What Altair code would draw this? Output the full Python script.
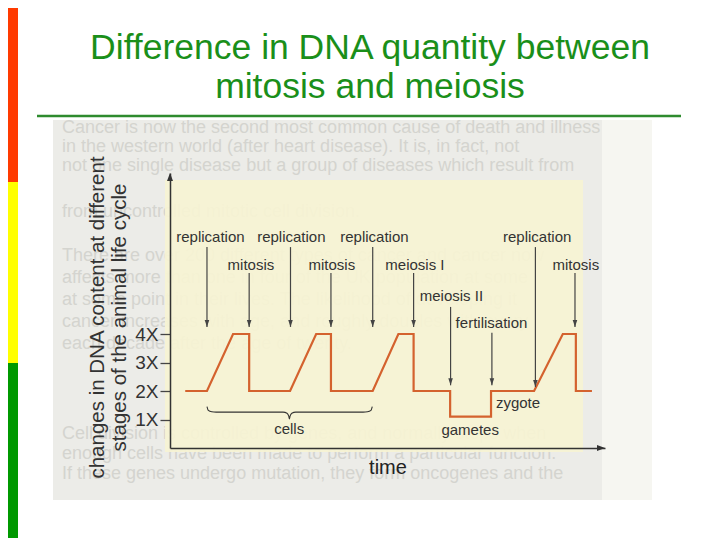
import altair as alt
import pandas as pd

# ---------------- data ----------------
# DNA content trace (time in arbitrary units 0-100, DNA content in multiples of X)
line_t = [3.5, 8.5, 14.5, 18.2, 18.2, 27.6, 33.6, 37.0, 37.0, 46.6, 52.5, 56.0, 56.0,
          64.4, 64.4, 73.8, 73.8, 83.7, 90.3, 93.3, 93.3, 97.0]
line_v = [2, 2, 4, 4, 2, 2, 4, 4, 2, 2, 4, 4, 2,
          2, 1.1, 1.1, 2, 2, 4, 4, 2, 2]

# events (arrows)
events = ["replication", "mitosis", "replication", "mitosis", "replication",
          "meiosis I", "meiosis II", "fertilisation", "replication", "mitosis"]
arrow_t = [8.5, 18.2, 27.7, 37.0, 46.6, 56.0, 64.5, 74.0, 84.0, 93.1]
arrow_top = [7.05, 6.14, 7.05, 6.14, 7.05, 6.14, 4.95, 4.04, 7.05, 6.14]
arrow_tip = [4.25, 4.25, 4.25, 4.25, 4.25, 4.25, 2.2, 2.2, 2.14, 4.25]
label_t = [9.3, 18.6, 27.9, 37.2, 47.0, 56.3, 64.7, 73.9, 84.4, 93.3]
label_v = [7.40, 6.42, 7.40, 6.42, 7.40, 6.42, 5.33, 4.39, 7.40, 6.42]

# stage notes
notes = ["cells", "gametes", "zygote"]
note_t = [27.4, 69.0, 80.0]
note_v = [0.67, 0.63, 1.58]

# brace under the mitotic cycles
brace_t = [8.5, 8.8, 9.6, 10.6, 26.0, 26.9, 27.3, 27.45, 27.6, 28.0, 28.9, 44.4, 45.4, 46.2, 46.5]
brace_v = [1.45, 1.32, 1.27, 1.26, 1.26, 1.22, 1.12, 1.02, 1.12, 1.22, 1.26, 1.26, 1.27, 1.32, 1.45]

y_ticks = [1, 2, 3, 4]
y_title = ["changes in DNA content at different", "stages of the animal life cycle"]
x_title = "time"
title_lines = ["Difference in DNA quantity between", "mitosis and meiosis"]

# faint text of the scanned book page behind the figure
page_block_a = ["Cancer is now the second most common cause of death and illness",
                "in the western world (after heart disease). It is, in fact, not",
                "not one single disease but a group of diseases which result from"]
page_block_b = ["from uncontrolled mitotic cell division."]
page_block_c = ["There are over 200 different types of cancer and cancer now",
                "affects more than one in four of the UK population at some",
                "at some point in their lives. The likelihood of developing it",
                "cancer increases with age, and roughly doubles with every",
                "each decade after the age of twenty."]
page_block_d = ["Cell division is controlled by genes, and normally stops when",
                "enough cells have been made to perform a particular function.",
                "If these genes undergo mutation, they form oncogenes and the"]

# ---------------- layout helpers ----------------
W, H = 435, 275
OX, OY = 170, 173          # screen position of plot origin (8px page margin + padding)


def px(sx):
    return sx - OX


def py(sy):
    return sy - OY


FONT = "Liberation Sans, Arial, sans-serif"
INK = "#333333"
one = pd.DataFrame({"k": [0]})

xs = alt.Scale(domain=[0, 100], nice=False, zero=False)
ys = alt.Scale(domain=[0, 9.65], nice=False, zero=False)

xaxis = alt.Axis(title=x_title, ticks=False, labels=False, grid=False, zindex=1,
                 domainColor=INK, domainWidth=1.5, titleFont=FONT, titleFontSize=20,
                 titleFontWeight="normal", titleColor="#222222", titlePadding=9)
yaxis = alt.Axis(title=y_title, values=y_ticks, labelExpr="datum.value + 'X'", zindex=1,
                 tickSize=10, tickColor="#444444", tickWidth=1.3, domainColor=INK,
                 domainWidth=1.5, labelFont=FONT, labelFontSize=19, labelColor=INK,
                 labelPadding=2, grid=False, titleFont=FONT, titleFontSize=20.5,
                 titleFontWeight="normal", titleColor=INK, titlePadding=5,
                 titleLineHeight=22, titleY=144)
X = alt.X("t:Q", scale=xs, axis=xaxis)
Y = alt.Y("v:Q", scale=ys, axis=yaxis)


def box(x1, x2, y1, y2, color, opacity=1.0):
    return alt.Chart(one).mark_rect(color=color, opacity=opacity).encode(
        x=alt.value(px(x1)), x2=alt.value(px(x2)),
        y=alt.value(py(y1)), y2=alt.value(py(y2)))


def page_text(lines, sx, sy, lh):
    return alt.Chart(one).mark_text(
        font=FONT, fontSize=18, color="#d4d4cf", align="left",
        baseline="middle", lineHeight=lh).encode(
        x=alt.value(px(sx)), y=alt.value(py(sy)), text=alt.value(lines))


layers = []
# slide side bars
layers.append(box(8, 18, 8, 182, "#ff3a00"))
layers.append(box(8, 18, 182, 363, "#ffff00"))
layers.append(box(8, 18, 363, 538, "#009900"))
# scanned page
layers.append(box(53, 602, 120, 500, "#ececE8"))
layers.append(box(602, 652, 120, 500, "#f6f6f1"))
layers.append(page_text(page_block_a, 62, 128, 19))
layers.append(page_text(page_block_b, 62, 212, 22))
layers.append(page_text(page_block_c, 62, 256, 22))
layers.append(page_text(page_block_d, 62, 434, 20))
layers.append(box(652, 720, 110, 505, "#ffffff"))
layers.append(box(165, 583, 180, 452, "#f7f4d3", 0.9))

# slide title and rule
layers.append(alt.Chart(one).mark_text(
    font=FONT, fontSize=35.5, color="#1a8f1a", align="center",
    baseline="alphabetic", lineHeight=39).encode(
    x=alt.value(px(370)), y=alt.value(py(59)), text=alt.value(title_lines)))
layers.append(alt.Chart(one).mark_rule(color="#2e8b2e", strokeWidth=2.5).encode(
    x=alt.value(px(37)), x2=alt.value(px(681)), y=alt.value(py(116))))

# DNA trace
line_df = pd.DataFrame({"t": line_t, "v": line_v, "o": list(range(len(line_t)))})
layers.append(alt.Chart(line_df).mark_line(
    color="#d4622e", strokeWidth=2.2, strokeJoin="miter").encode(
    x=X, y=Y, order="o:Q"))

# event arrows
arr_df = pd.DataFrame({"t": arrow_t, "v": arrow_top, "v2": arrow_tip})
layers.append(alt.Chart(arr_df).mark_rule(color="#444444", strokeWidth=1.2).encode(
    x=X, y=Y, y2="v2:Q"))
head_df = pd.DataFrame({"t": arrow_t, "v": arrow_tip})
layers.append(alt.Chart(head_df).mark_point(
    shape="M-0.65,-2L0.65,-2L0,0Z", size=49, filled=True, color="#444444",
    opacity=1, strokeWidth=0).encode(x=X, y=Y))
lab_df = pd.DataFrame({"t": label_t, "v": label_v, "label": events})
layers.append(alt.Chart(lab_df).mark_text(
    font=FONT, fontSize=15, color=INK, align="center", baseline="middle").encode(
    x=X, y=Y, text="label:N"))

# brace and stage notes
brace_df = pd.DataFrame({"t": brace_t, "v": brace_v, "o": list(range(len(brace_t)))})
layers.append(alt.Chart(brace_df).mark_line(
    color=INK, strokeWidth=1.1, interpolate="monotone").encode(x=X, y=Y, order="o:Q"))
note_df = pd.DataFrame({"t": note_t, "v": note_v, "label": notes})
layers.append(alt.Chart(note_df).mark_text(
    font=FONT, fontSize=15, color=INK, align="center", baseline="middle").encode(
    x=X, y=Y, text="label:N"))

# axis arrowheads
layers.append(alt.Chart(pd.DataFrame({"t": [0], "v": [9.65]})).mark_point(
    shape="M-0.75,2L0.75,2L0,0Z", size=64, filled=True, color=INK,
    opacity=1, strokeWidth=0).encode(x=X, y=Y))
layers.append(alt.Chart(pd.DataFrame({"t": [100], "v": [0]})).mark_point(
    shape="M-2,-0.75L-2,0.75L0,0Z", size=64, filled=True, color=INK,
    opacity=1, strokeWidth=0).encode(x=X, y=Y))

chart = alt.layer(*layers).properties(
    width=W, height=H,
    autosize=alt.AutoSizeParams(type="none"),
    padding={"left": 162, "top": 165, "right": 115, "bottom": 90},
    background="white",
).configure_view(strokeWidth=0)

chart.save("out.html", embed_options={"renderer": "svg", "actions": False})
